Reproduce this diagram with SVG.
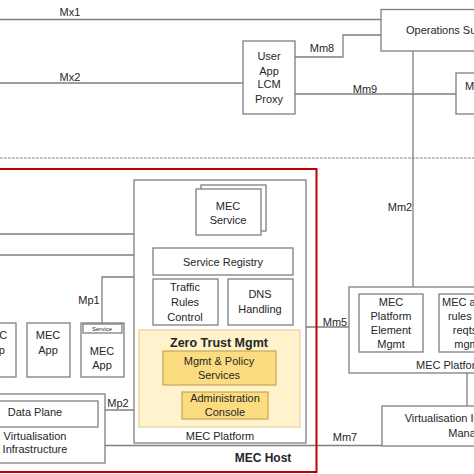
<svg xmlns="http://www.w3.org/2000/svg" width="474" height="474" viewBox="0 0 474 474">
<style>
.b{fill:#fff;stroke:#7f7f7f;stroke-width:1.3}
.t{font-family:"Liberation Sans",Arial,sans-serif;font-size:11px;fill:#262626;text-anchor:middle}
.s{text-anchor:start}
.c{fill:none;stroke:#7f7f7f;stroke-width:1.3}
.zt{fill:#fff2cc;stroke:#e8d49e;stroke-width:1.3}
.zi{fill:#fcdc80;stroke:#c9a650;stroke-width:1.2}
</style>
<rect width="474" height="474" fill="#fff"/>
<g id="connectors">
<line x1="0" y1="158" x2="474" y2="158" stroke="#c4c4c4" stroke-width="2" stroke-dasharray="3 1"/>
<polyline class="c" points="0,19.5 381,19.5"/>
<polyline class="c" points="0,83 243,83"/>
<polyline class="c" points="295,57 343,57 343,35 381,35"/>
<polyline class="c" points="295,94 456,94"/>
<polyline class="c" points="413,51 413,287"/>
<polyline class="c" points="0,234 134,234"/>
<polyline class="c" points="0,255 134,255"/>
<polyline class="c" points="134,277 102,277 102,324"/>
<polyline class="c" points="98,410 134,410"/>
<polyline class="c" points="105,445.5 382,445.5"/>
<polyline class="c" points="306,327 349,327"/>
<polyline class="c" points="467,373 467,406"/>
<text class="t" x="70" y="16">Mx1</text>
<text class="t" x="70" y="81">Mx2</text>
<text class="t" x="322" y="52">Mm8</text>
<text class="t" x="365" y="93">Mm9</text>
<text class="t" x="400" y="211">Mm2</text>
<text class="t" x="89" y="304">Mp1</text>
<text class="t" x="118" y="407">Mp2</text>
<text class="t" x="335" y="326">Mm5</text>
<text class="t" x="345" y="441">Mm7</text>
</g>
<g id="oss">
<rect class="b" x="381" y="9.5" width="120" height="41.5"/>
<text class="t s" x="406" y="34">Operations Support System</text>
</g>
<g id="user-app-lcm-proxy">
<rect class="b" x="243" y="41" width="52" height="73"/>
<text class="t" x="269" y="60">User</text>
<text class="t" x="269" y="75">App</text>
<text class="t" x="269" y="88">LCM</text>
<text class="t" x="269" y="103">Proxy</text>
</g>
<g id="mec-orchestrator">
<rect class="b" x="456" y="73" width="60" height="41"/>
<text class="t s" x="465" y="90">MEC Orchestrator</text>
</g>
<g id="mec-host">
<rect x="-5" y="169" width="321.5" height="303" fill="none" stroke="#c00000" stroke-width="2"/>
<text class="t" x="263" y="462" style="font-weight:bold;font-size:12px">MEC Host</text>
</g>
<g id="mec-platform">
<rect class="b" x="134" y="180" width="172" height="263"/>
<text class="t" x="220" y="440">MEC Platform</text>
</g>
<g id="mec-service">
<rect class="b" x="201" y="185" width="65" height="46"/>
<rect class="b" x="196" y="189" width="65" height="46"/>
<text class="t" x="228" y="210">MEC</text>
<text class="t" x="228" y="224">Service</text>
</g>
<g id="service-registry">
<rect class="b" x="153" y="248" width="140" height="27"/>
<text class="t" x="223" y="266">Service Registry</text>
</g>
<g id="traffic-rules">
<rect class="b" x="153" y="279" width="65" height="46"/>
<text class="t" x="185" y="291">Traffic</text>
<text class="t" x="185" y="306">Rules</text>
<text class="t" x="185" y="321">Control</text>
</g>
<g id="dns-handling">
<rect class="b" x="228" y="279" width="65" height="46"/>
<text class="t" x="260" y="298">DNS</text>
<text class="t" x="260" y="313">Handling</text>
</g>
<g id="zero-trust">
<rect class="zt" x="139" y="330" width="161" height="97"/>
<text class="t" x="219" y="347" style="font-weight:bold;font-size:12.5px">Zero Trust Mgmt</text>
</g>
<g id="mgmt-policy">
<rect class="zi" x="163" y="351" width="113" height="34"/>
<text class="t" x="219" y="365">Mgmt &amp; Policy</text>
<text class="t" x="219" y="379">Services</text>
</g>
<g id="admin-console">
<rect class="zi" x="182" y="392" width="86" height="27"/>
<text class="t" x="225" y="402">Administration</text>
<text class="t" x="225" y="416">Console</text>
</g>
<g id="mec-app-1">
<rect class="b" x="-27" y="323" width="43" height="54"/>
<text class="t" x="-5" y="339">MEC</text>
<text class="t" x="-5" y="354">App</text>
</g>
<g id="mec-app-2">
<rect class="b" x="27" y="323" width="43" height="54"/>
<text class="t" x="48" y="339">MEC</text>
<text class="t" x="48" y="354">App</text>
</g>
<g id="mec-app-3">
<rect class="b" x="81" y="323" width="43" height="54"/>
<rect class="b" x="83" y="324" width="39" height="9"/>
<text class="t" x="102" y="331" style="font-size:6px">Service</text>
<text class="t" x="102" y="355">MEC</text>
<text class="t" x="102" y="369">App</text>
</g>
<g id="virtualisation-infrastructure">
<rect class="b" x="-10" y="394" width="115" height="69"/>
<text class="t" x="35" y="440">Virtualisation</text>
<text class="t" x="35" y="453">Infrastructure</text>
</g>
<g id="data-plane">
<rect class="b" x="-10" y="401" width="108" height="26"/>
<text class="t" x="35" y="416">Data Plane</text>
</g>
<g id="mec-platform-manager">
<rect class="b" x="349" y="287" width="150" height="86"/>
<text class="t s" x="416" y="369">MEC Platform Manager</text>
</g>
<g id="platform-element-mgmt">
<rect class="b" x="359" y="294" width="64" height="58"/>
<text class="t" x="391" y="306">MEC</text>
<text class="t" x="391" y="320">Platform</text>
<text class="t" x="391" y="334">Element</text>
<text class="t" x="391" y="348">Mgmt</text>
</g>
<g id="app-rules-mgmt">
<rect class="b" x="439" y="294" width="64" height="58"/>
<text class="t" x="465" y="306">MEC app</text>
<text class="t" x="465" y="320">rules &amp;</text>
<text class="t" x="465" y="334">reqts</text>
<text class="t" x="468" y="348">mgmt</text>
</g>
<g id="vim">
<rect class="b" x="382" y="406" width="120" height="40"/>
<text class="t" x="470" y="422">Virtualisation Infrastructure</text>
<text class="t" x="470" y="437">Manager</text>
</g>
</svg>
